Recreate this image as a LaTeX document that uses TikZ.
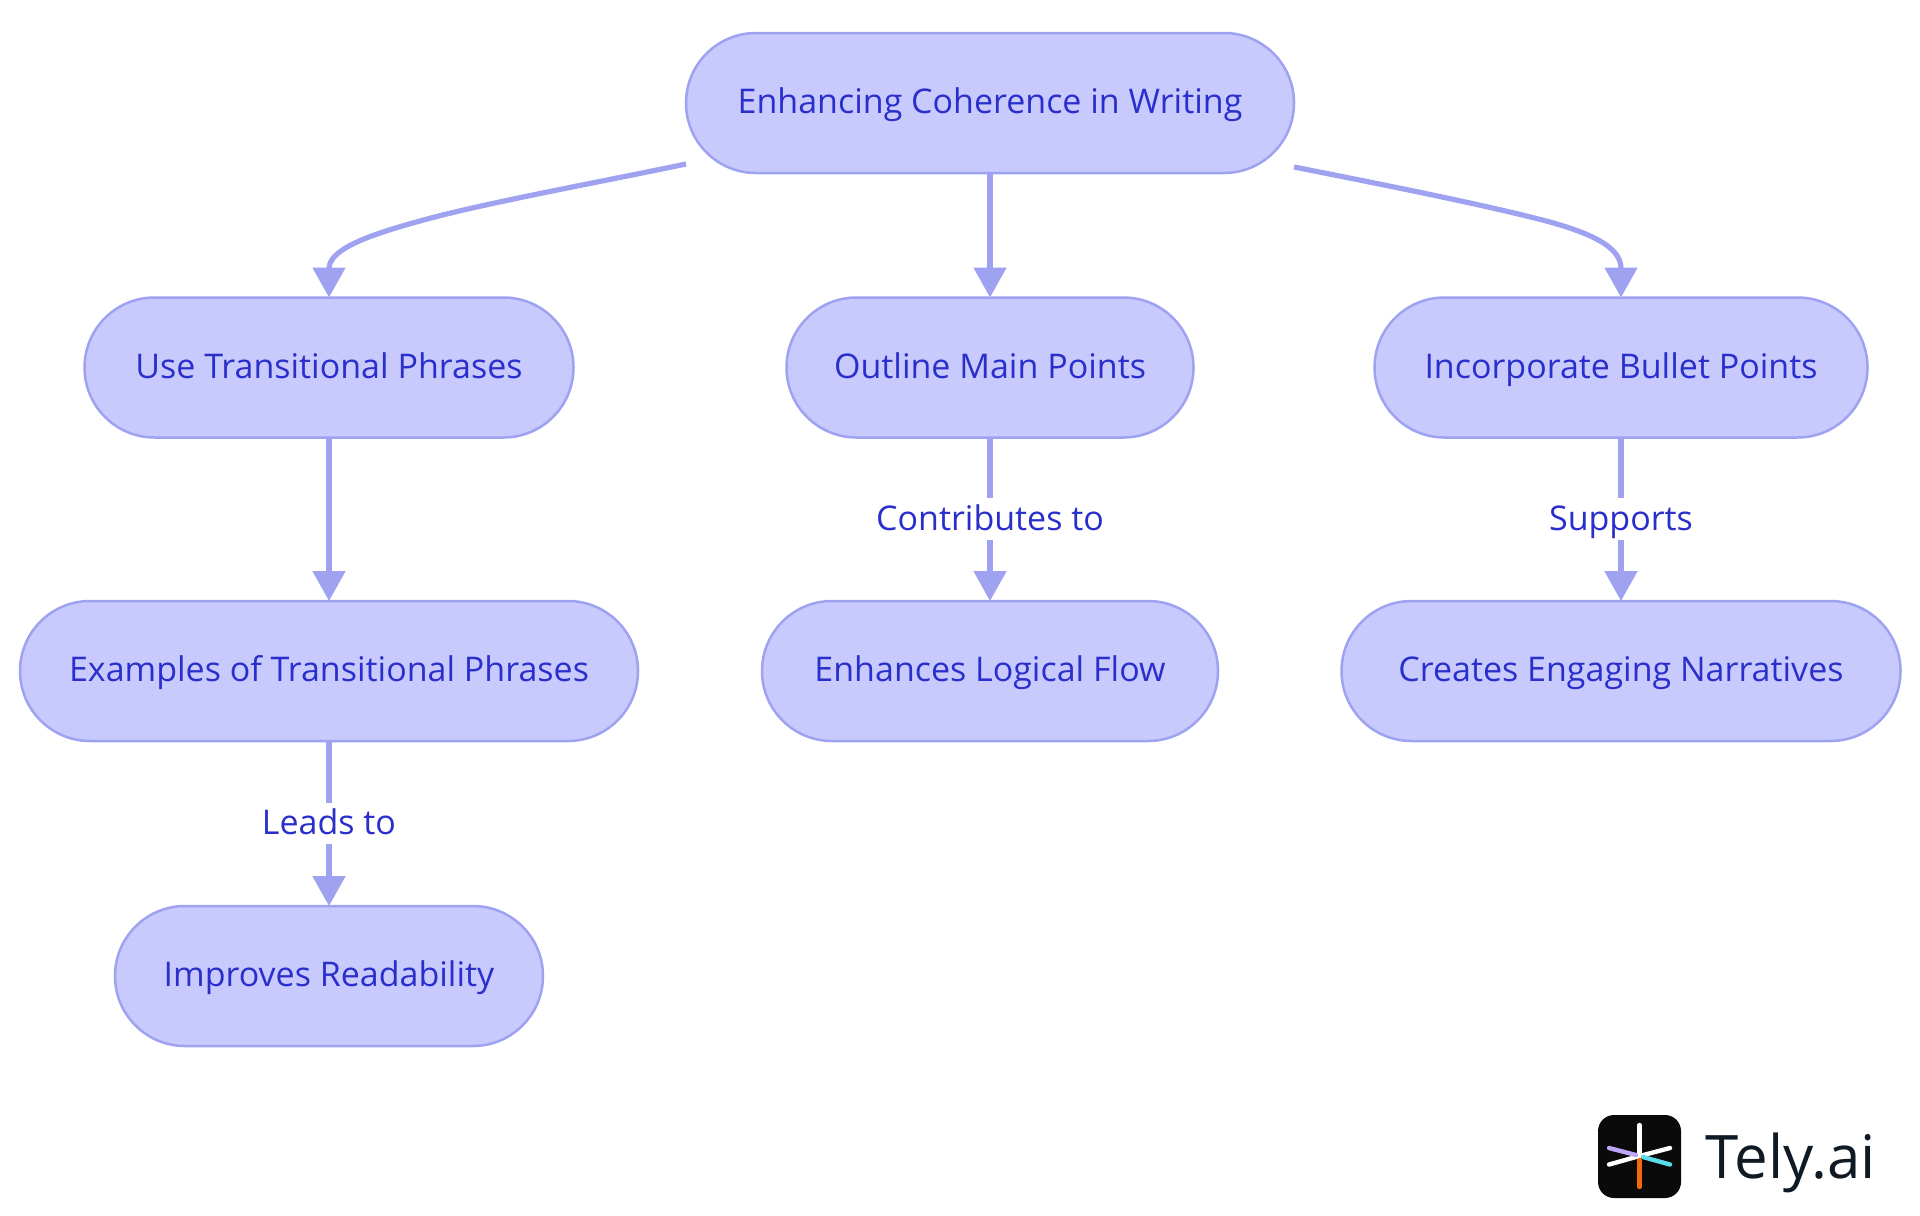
\documentclass[tikz,border=0pt]{standalone}
\usepackage{fontspec}
\setmainfont{Open Sans}
\usetikzlibrary{arrows.meta}
\definecolor{nfill}{HTML}{C8CAFD}
\definecolor{nline}{HTML}{9EA2F1}
\definecolor{ntext}{HTML}{2A2FCB}
\definecolor{logoink}{HTML}{101A24}
\tikzset{
  box/.style={draw=nline,fill=nfill,line width=1.25pt,rounded corners=35pt,text=ntext,
    minimum height=70pt,outer sep=0pt,inner sep=0pt,text height=15.8pt,text depth=5pt,
    font=\fontsize{17}{20}\selectfont},
  conn/.style={draw=nline,line width=2.6pt,-{Triangle[length=15pt,width=16pt]}},
  lbl/.style={fill=white,text=ntext,inner sep=0pt,text height=15.8pt,text depth=5pt,font=\fontsize{17}{20}\selectfont},
  spoke/.style={line width=2.2pt,line cap=round},
}
\begin{document}
\begin{tikzpicture}[x=0.5pt,y=-0.5pt]
\useasboundingbox (0,0) rectangle (1920,1215);
\node[box,minimum width=304pt] (root) at (990,103) {Enhancing Coherence in Writing};
\node[box,minimum width=244.5pt] (use) at (329,367.5) {Use Transitional Phrases};
\node[box,minimum width=203.5pt] (outline) at (990,367.5) {Outline Main Points};
\node[box,minimum width=246.5pt] (bullet) at (1621,367.5) {Incorporate Bullet Points};
\node[box,minimum width=309pt] (examples) at (329,671) {Examples of Transitional Phrases};
\node[box,minimum width=228pt] (logical) at (990,671) {Enhances Logical Flow};
\node[box,minimum width=279.5pt] (creates) at (1621,671) {Creates Engaging Narratives};
\node[box,minimum width=214pt] (read) at (329,976) {Improves Readability};
\path[conn] ([yshift=4.5pt]root.south west) .. controls (590,184) and (480,204) .. (420,221) .. controls (365,236) and (329,250) .. (use.north);
\path[conn] (root) -- (outline);
\path[conn] ([yshift=3pt]root.south east) .. controls (1390,186) and (1490,206) .. (1550,222) .. controls (1600,236) and (1621,250) .. (bullet.north);
\path[conn] (use) -- (examples);
\path[conn] (examples) -- node[lbl] (l1) {Leads to} (read);
\path[conn] (outline) -- node[lbl] (l2) {Contributes to} (logical);
\path[conn] (bullet) -- node[lbl] (l3) {Supports} (creates);
% logo
\fill[black!96,rounded corners=8pt] (1598,1115) rectangle (1681,1198);
\coordinate (c) at (1639.5,1156);
\draw[spoke,white] (1639.5,1125) -- (c);
\draw[spoke,white] (1609,1164.5) -- (c);
\draw[spoke,white] (1670,1148) -- (c);
\draw[spoke,color={rgb,255:red,190;green,165;blue,245}] (1609,1148) -- (1636,1155);
\draw[spoke,color={rgb,255:red,90;green,220;blue,235}] (1670,1164.5) -- (1643,1157);
\draw[spoke,color={rgb,255:red,245;green,105;blue,10}] (1639.5,1160) -- (1639.5,1187);
\node[anchor=base west,inner sep=0pt,text=logoink,font=\fontsize{30}{32}\selectfont] (brand) at (1705,1178) {Tely.ai};
\end{tikzpicture}
\end{document}
